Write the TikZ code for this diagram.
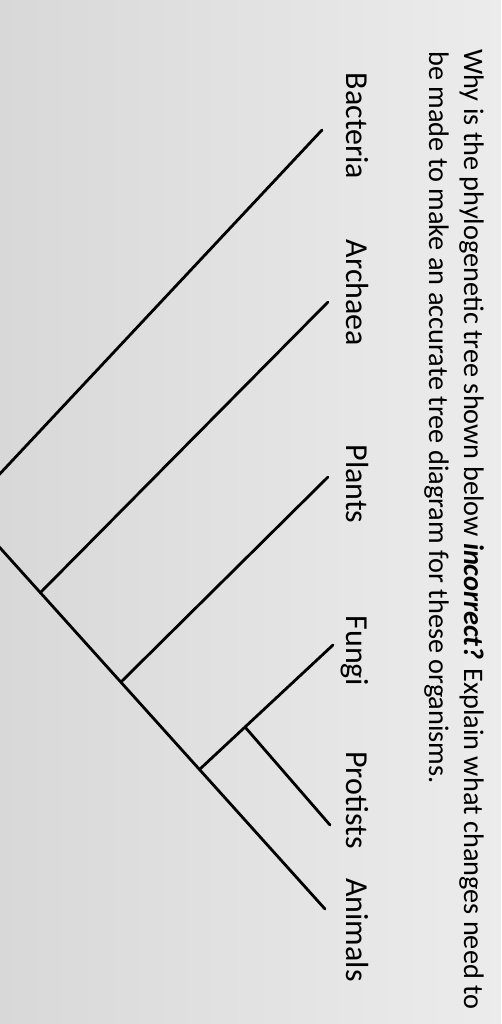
\documentclass[tikz,border=0pt]{standalone}
\usepackage{fontspec}
\setmainfont{Carlito}
\definecolor{paperL}{RGB}{216,216,216}
\definecolor{paperR}{RGB}{236,236,236}
\begin{document}
\begin{tikzpicture}[x=1pt,y=-1pt,line width=2.8pt,
 txt/.style={rotate=-90,inner sep=0pt,font=\fontsize{28.3}{34}\selectfont},
 taxon/.style={txt,anchor=base,font=\fontsize{32}{36}\selectfont},
 branch/.style={line cap=round}]
 \shade[left color=paperL,right color=paperR] (0,0) rectangle (501,1024);
 \clip (0,0) rectangle (501,1024);
 % question
 \node[txt,anchor=base west] (q1) at (464,48)
 {Why is the phylogenetic tree shown below \textbf{\textit{incorrect?}} Explain what changes need to};
 \node[txt,anchor=base west] (q2) at (429,50)
 {be made to make an accurate tree diagram for these organisms.};
 % taxa
 \node[taxon] (bac) at (346,126) {Bacteria};
 \node[taxon] (arc) at (346,293) {Archaea};
 \node[taxon] (pla) at (346,484) {Plants};
 \node[taxon] (fun) at (346,651) {Fungi};
 \node[taxon] (pro) at (346,800) {Protists};
 \node[taxon] (ani) at (346,930) {Animals};
 % tips and forks
 \coordinate (root) at (-34,510);
 \coordinate (tbac) at (322,130);
 \coordinate (tarc) at (328,302);
 \coordinate (tpla) at (328,477);
 \coordinate (tfun) at (333,645);
 \coordinate (tpro) at (330,825);
 \coordinate (tani) at (325,909);
 \coordinate (j1) at (40,593);
 \coordinate (j2) at (122,681);
 \coordinate (j3) at (200,769);
 \coordinate (j4) at (245,727);
 % tree
 \draw[branch] (root) -- (tbac);
 \draw[branch] (root) -- (tani);
 \draw[branch] (j1) -- (tarc);
 \draw[branch] (j2) -- (tpla);
 \draw[branch] (j3) -- (tfun);
 \draw[branch] (j4) -- (tpro);
\end{tikzpicture}
\end{document}
